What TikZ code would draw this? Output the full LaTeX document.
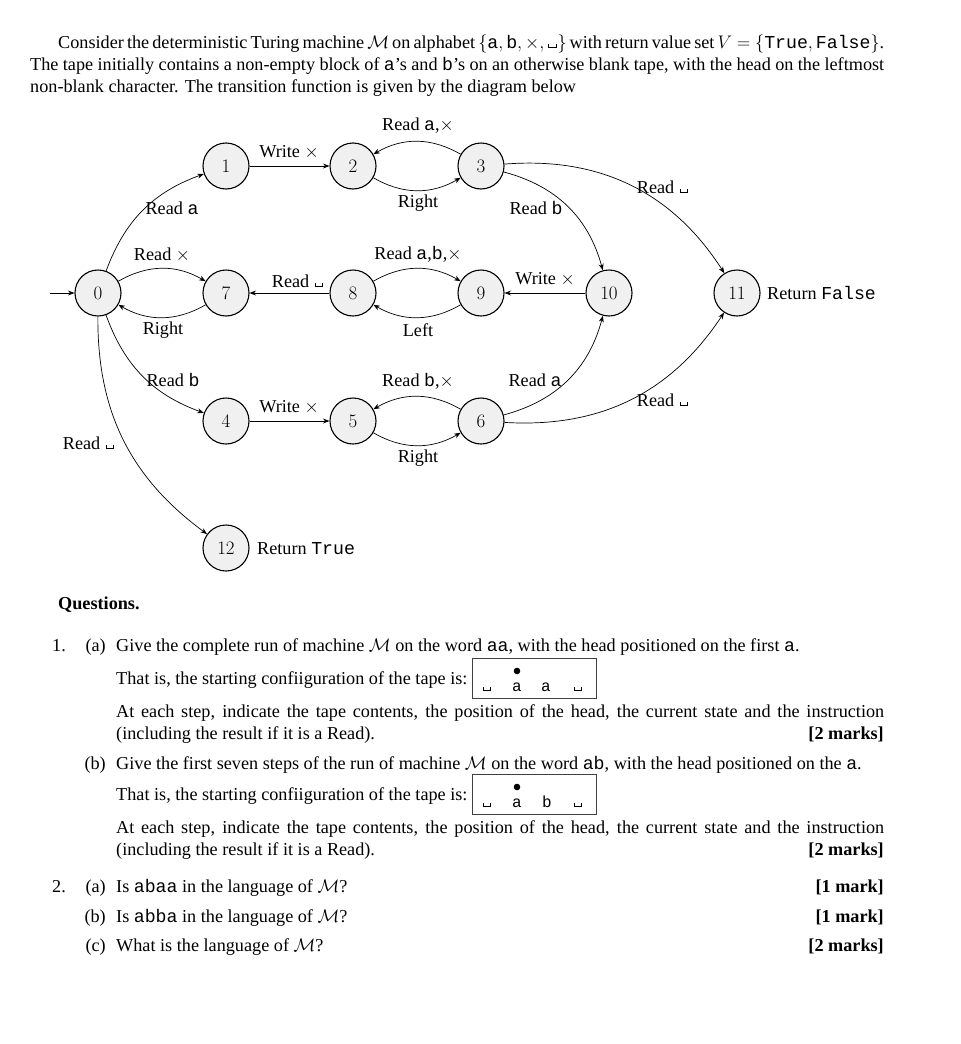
\RequirePackage{fix-cm}
\documentclass[tikz,border=0pt]{standalone}
\usepackage[no-math]{fontspec}
\setmainfont{Liberation Serif}
\setmonofont{Liberation Mono}
\usetikzlibrary{arrows.meta}
\newcommand{\visp}{\mbox{\kern0.06em\vrule width 0.05em height 0.22em depth 0pt\vrule width 0.34em height 0.05em depth 0pt\vrule width 0.05em height 0.22em depth 0pt\kern0.06em}}
\newcommand{\Mcal}{\mathcal{M}}
\tikzset{
  st/.style={circle,draw,line width=1.1pt,fill=gray!12,minimum size=46pt,inner sep=0pt,font=\fontsize{19}{22}\selectfont},
  tr/.style={draw,line width=0.7pt,-{Stealth[length=6.5pt,width=5pt]}},
  lbl/.style={inner sep=0pt},
  txt/.style={anchor=base west,inner sep=0pt},
  txtr/.style={anchor=base east,inner sep=0pt},
  tapebox/.style={draw=black!75,line width=0.8pt,minimum width=124pt,minimum height=40pt,inner sep=0pt},
  tapech/.style={anchor=base,inner sep=0pt,font=\ttfamily\fontsize{16}{18}\selectfont},
}
\begin{document}
\begin{tikzpicture}[x=1pt,y=1pt,font=\fontsize{18.2}{22}\selectfont]
\fill[white] (0,0) rectangle (961,-1044);
\useasboundingbox (0,0) rectangle (961,-1044);

% intro paragraph
\node[txt] (p1) at (58,-48) {\makebox[826pt][s]{Consider the deterministic Turing machine $\Mcal$ on alphabet $\{\texttt{a},\texttt{b},\times,\mbox{\visp}\}$ with return value set $V=\{\texttt{True},\texttt{False}\}$.}};
\node[txt] (p2) at (30,-70) {\makebox[854pt][s]{The tape initially contains a non-empty block of \texttt{a}'s and \texttt{b}'s on an otherwise blank tape, with the head on the leftmost}};
\node[txt] (p3) at (30,-92) {non-blank character. The transition function is given by the diagram below};

% states
\node[st] (n0) at (98,-293) {$0$};
\node[st] (n1) at (226,-166) {$1$};
\node[st] (n2) at (353,-166) {$2$};
\node[st] (n3) at (481,-166) {$3$};
\node[st] (n7) at (226,-293) {$7$};
\node[st] (n8) at (353,-293) {$8$};
\node[st] (n9) at (481,-293) {$9$};
\node[st] (n10) at (609,-293) {$10$};
\node[st] (n11) at (737,-293) {$11$};
\node[st] (n4) at (226,-421) {$4$};
\node[st] (n5) at (353,-421) {$5$};
\node[st] (n6) at (481,-421) {$6$};
\node[st] (n12) at (226,-548) {$12$};

\node[txt] (ret11) at (767,-299) {Return \texttt{False}};
\node[txt] (ret12) at (257,-554) {Return \texttt{True}};

% transitions
\coordinate (start) at (50,-293);
\draw[tr] (start) -- (n0);
\draw[tr] (n0) to[bend left=25] (n1);
\draw[tr] (n1) -- (n2);
\draw[tr] (n2) to[bend right=30] (n3);
\draw[tr] (n3) to[bend right=30] (n2);
\draw[tr] (n3) to[bend left=30] (n10);
\draw[tr] (n3) to[bend left=31] (n11);
\draw[tr] (n0) to[bend left=30] (n7);
\draw[tr] (n7) to[bend left=30] (n0);
\draw[tr] (n8) -- (n7);
\draw[tr] (n8) to[bend left=30] (n9);
\draw[tr] (n9) to[bend left=30] (n8);
\draw[tr] (n10) -- (n9);
\draw[tr] (n0) to[bend right=25] (n4);
\draw[tr] (n4) -- (n5);
\draw[tr] (n5) to[bend right=30] (n6);
\draw[tr] (n6) to[bend right=30] (n5);
\draw[tr] (n6) to[bend right=30] (n10);
\draw[tr] (n6) to[bend right=30] (n11);
\draw[tr] (n0) to[bend right=27] (n12);

% labels
\node[lbl] (l01) at (172,-208) {Read \texttt{a}};
\node[lbl] (l12) at (289,-152) {Write $\times$};
\node[lbl] (l32) at (418,-126) {Read \texttt{a},$\times$};
\node[lbl] (l23) at (418,-203) {Right};
\node[lbl] (l310) at (536,-208) {Read \texttt{b}};
\node[lbl] (l311) at (663,-187) {Read \visp};
\node[lbl] (l07) at (162,-255) {Read $\times$};
\node[lbl] (l70) at (163,-330) {Right};
\node[lbl] (l87) at (298,-281) {Read \visp};
\node[lbl] (l89) at (418,-254) {Read \texttt{a},\texttt{b},$\times$};
\node[lbl] (l98) at (418,-330) {Left};
\node[lbl] (l109) at (545,-279) {Write $\times$};
\node[lbl] (l04) at (173,-380) {Read \texttt{b}};
\node[lbl] (l45) at (289,-407) {Write $\times$};
\node[lbl] (l65) at (418,-381) {Read \texttt{b},$\times$};
\node[lbl] (l56) at (418,-458) {Right};
\node[lbl] (l610) at (535,-380) {Read \texttt{a}};
\node[lbl] (l611) at (663,-400) {Read \visp};
\node[lbl] (l012) at (89,-443) {Read \visp};

% questions
\node[txt] (q) at (58,-609) {\textbf{Questions.}};
\node[txtr] (q1) at (66,-651) {1.};
\node[txtr] (q1a) at (106,-651) {(a)};
\node[txt] (q1at) at (116,-651) {Give the complete run of machine $\Mcal$ on the word \texttt{aa}, with the head positioned on the first \texttt{a}.};
\node[txt] (q1as) at (116,-684) {That is, the starting confiiguration of the tape is:};
\node[tapebox] (tape1) at (534,-678) {};
\fill (517,-671) circle (3.3);
\node[tapech] (t1a) at (487,-691) {\visp};
\node[tapech] (t1b) at (517,-691) {a};
\node[tapech] (t1c) at (546,-691) {a};
\node[tapech] (t1d) at (578,-691) {\visp};
\node[txt] (q1ae) at (116,-717) {\makebox[768pt][s]{At each step, indicate the tape contents, the position of the head, the current state and the instruction}};
\node[txt] (q1af) at (116,-739) {(including the result if it is a Read).};
\node[txtr] (m1a) at (884,-739) {\textbf{[2 marks]}};

\node[txtr] (q1b) at (106,-769) {(b)};
\node[txt] (q1bt) at (116,-769) {Give the first seven steps of the run of machine $\Mcal$ on the word \texttt{ab}, with the head positioned on the \texttt{a}.};
\node[txt] (q1bs) at (116,-800) {That is, the starting confiiguration of the tape is:};
\node[tapebox] (tape2) at (534,-794) {};
\fill (517,-787) circle (3.3);
\node[tapech] (t2a) at (487,-807) {\visp};
\node[tapech] (t2b) at (517,-807) {a};
\node[tapech] (t2c) at (547,-807) {b};
\node[tapech] (t2d) at (578,-807) {\visp};
\node[txt] (q1be) at (116,-833) {\makebox[768pt][s]{At each step, indicate the tape contents, the position of the head, the current state and the instruction}};
\node[txt] (q1bf) at (116,-855) {(including the result if it is a Read).};
\node[txtr] (m1b) at (884,-855) {\textbf{[2 marks]}};

\node[txtr] (q2) at (66,-892) {2.};
\node[txtr] (q2a) at (106,-892) {(a)};
\node[txt] (q2at) at (116,-892) {Is \texttt{abaa} in the language of $\Mcal$?};
\node[txtr] (m2a) at (884,-892) {\textbf{[1 mark]}};
\node[txtr] (q2b) at (106,-922) {(b)};
\node[txt] (q2bt) at (116,-922) {Is \texttt{abba} in the language of $\Mcal$?};
\node[txtr] (m2b) at (884,-922) {\textbf{[1 mark]}};
\node[txtr] (q2c) at (106,-951) {(c)};
\node[txt] (q2ct) at (116,-951) {What is the language of $\Mcal$?};
\node[txtr] (m2c) at (884,-951) {\textbf{[2 marks]}};
\end{tikzpicture}
\end{document}
